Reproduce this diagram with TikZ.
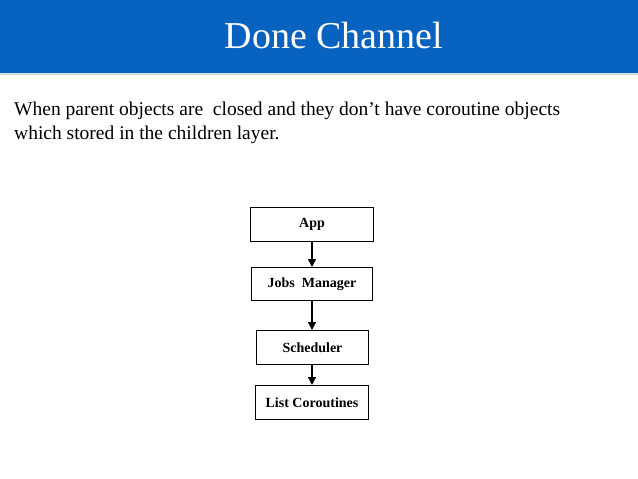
\documentclass[tikz,border=0pt]{standalone}
\usepackage{fontspec}
\setmainfont{Liberation Serif}
\usetikzlibrary{arrows.meta}
\definecolor{bar}{RGB}{8,99,192}
\tikzset{box/.style={draw,line width=1pt,anchor=north west,font=\fontsize{14}{16}\selectfont\bfseries},
arr/.style={-{Triangle[length=8pt,width=8pt]},line width=1.4pt}}
\begin{document}
\begin{tikzpicture}[x=1pt,y=-1pt]
\useasboundingbox (0,0) rectangle (638,479);
\fill[bar] (0,0) rectangle (638,73);
\fill[black!15] (0,73) rectangle (638,75);
\node[text=white,font=\fontsize{38}{40}\selectfont] (title) at (334,36) {Done Channel};
\node[anchor=north west,align=left,inner sep=0pt,font=\fontsize{19.5}{24}\selectfont] (txt) at (14,102) {When parent objects are\ \ closed and they don{\char"0027}t have coroutine objects\\which stored in the children layer.};
\node[box,minimum width=123pt,minimum height=34pt] (a) at (250,207) {App};
\node[box,minimum width=121pt,minimum height=33pt] (b) at (251,267) {Jobs\ \ Manager};
\node[box,minimum width=112pt,minimum height=34pt] (c) at (256,330) {Scheduler};
\node[box,minimum width=113pt,minimum height=34pt] (d) at (255,385) {List Coroutines};
\draw[arr] (a.south -| 312,0) -- (b.north -| 312,0);
\draw[arr] (b.south -| 312,0) -- (c.north -| 312,0);
\draw[arr] (c.south -| 312,0) -- (d.north -| 312,0);
\end{tikzpicture}
\end{document}
